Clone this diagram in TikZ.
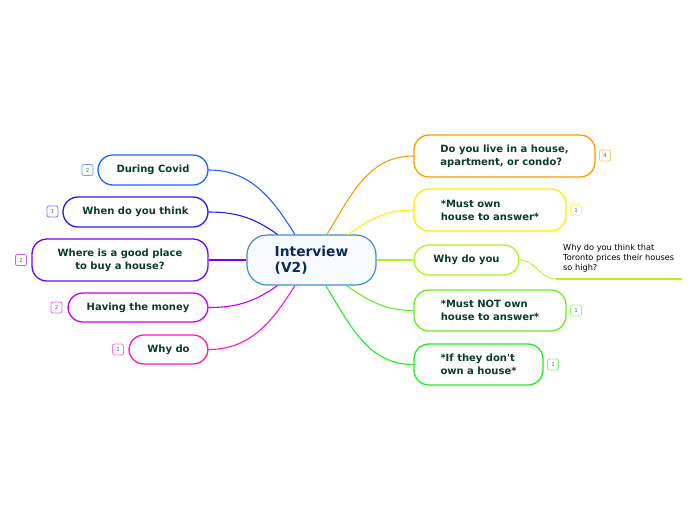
\documentclass[tikz,border=0pt]{standalone}
\usepackage{fontspec}
\setmainfont{DejaVu Sans}
\definecolor{txt}{HTML}{0B3B2C}
\definecolor{ctxt}{HTML}{102A55}
\definecolor{cbord}{HTML}{3C8ED0}
\definecolor{cfill}{HTML}{F7FBFF}
\definecolor{cA}{HTML}{1E63FF}
\definecolor{cB}{HTML}{2A18F5}
\definecolor{cC}{HTML}{7A00F5}
\definecolor{cD}{HTML}{C800EE}
\definecolor{cE}{HTML}{FF14C8}
\definecolor{cF}{HTML}{FF9A00}
\definecolor{cG}{HTML}{FFEE00}
\definecolor{cH}{HTML}{B2F01E}
\definecolor{cI}{HTML}{66EE22}
\definecolor{cJ}{HTML}{22EE22}
\tikzset{
  topic/.style={draw=#1, line width=1.3pt, fill=white, rounded corners=15pt, inner sep=0pt,
     text=txt, font=\fontsize{10}{12.8}\selectfont\bfseries},
  badge/.style={draw=#1!60, line width=0.8pt, rounded corners=2pt, minimum width=11pt, minimum height=11pt,
     inner sep=0pt, text=black!60, font=\fontsize{5.5}{6}\selectfont},
  conn/.style={draw=#1, line width=1.1pt},
}
\begin{document}
\begin{tikzpicture}[x=1pt,y=-1pt]
\useasboundingbox (0,0) rectangle (696,520);
% center
\node[draw=cbord, fill=cfill, line width=1.2pt, rounded corners=20pt, minimum width=129pt, minimum height=50pt,
  text=ctxt, font=\fontsize{13.8}{16.5}\selectfont\bfseries, align=left] (c) at (311.5,260) {Interview\\(V2)};
% left topics
\node[topic=cA, minimum width=110pt, minimum height=30pt] (dc) at (153,170) {During Covid};
\node[topic=cB, minimum width=145pt, minimum height=30pt] (wt) at (135.5,212) {When do you think};
\node[topic=cC, minimum width=176pt, minimum height=42pt, align=center] (wh) at (120,260) {Where is a good place\\to buy a house?};
\node[topic=cD, minimum width=140pt, minimum height=29pt] (hm) at (138,307.5) {Having the money};
\node[topic=cE, minimum width=79pt, minimum height=29pt] (wd) at (168.5,349.5) {Why do};
% right topics
\node[topic=cF, minimum width=181pt, minimum height=42pt, align=left] (dl) at (504.5,156) {Do you live in a house,\\apartment, or condo?};
\node[topic=cG, minimum width=152pt, minimum height=42pt, align=left] (mo) at (490,210) {*Must own\\house to answer*};
\node[topic=cH, minimum width=105pt, minimum height=30pt] (wy) at (466.5,260) {Why do you};
\node[topic=cI, minimum width=152pt, minimum height=41pt, align=left] (mn) at (490,310.5) {*Must NOT own\\house to answer*};
\node[topic=cJ, minimum width=129pt, minimum height=41pt, align=left] (it) at (478.5,364.5) {*If they don\textquotesingle t\\own a house*};
% badges
\node[badge=cA] (b1) at (87.5,170) {2};
\node[badge=cB] (b2) at (52.5,211.5) {1};
\node[badge=cC] (b3) at (21,260) {2};
\node[badge=cD] (b4) at (56.5,307.5) {2};
\node[badge=cE] (b5) at (118,349.5) {1};
\node[badge=cF] (b6) at (605,155.5) {4};
\node[badge=cG] (b7) at (576,210) {1};
\node[badge=cI] (b8) at (576,310.5) {1};
\node[badge=cJ] (b9) at (553,364.5) {1};
% subtopic
\node[anchor=north west, inner sep=0pt, align=left, font=\fontsize{8.2}{10}\selectfont] (sub) at (563,244)
  {Why do you think that\\Toronto prices their houses\\so high?};
\coordinate (ul1) at (556,279);
\coordinate (ul2) at (682,279);
% connectors left
\draw[conn=cA] (dc.east) to[out=0,in=122] (c.123);
\draw[conn=cB] (wt.east) to[out=0,in=145] (c.143);
\draw[conn=cC] (wh.east) -- (c.west);
\draw[conn=cD] (hm.east) to[out=0,in=-145] (c.-143);
\draw[conn=cE] (wd.east) to[out=0,in=-122] (c.-123);
% connectors right
\draw[conn=cF] (c.59) to[out=58,in=180] (dl.west);
\draw[conn=cG] (c.35) to[out=35,in=180] (mo.west);
\draw[conn=cH] (c.east) -- (wy.west);
\draw[conn=cI] (c.-36) to[out=-35,in=180] (mn.west);
\draw[conn=cJ] (c.-61) to[out=-58,in=180] (it.west);
% subtopic link
\draw[draw=cH, line width=0.8pt] (wy.east) to[out=0,in=180] (ul1);
\draw[draw=cH, line width=2pt] (ul1) -- (ul2);
\end{tikzpicture}
\end{document}
